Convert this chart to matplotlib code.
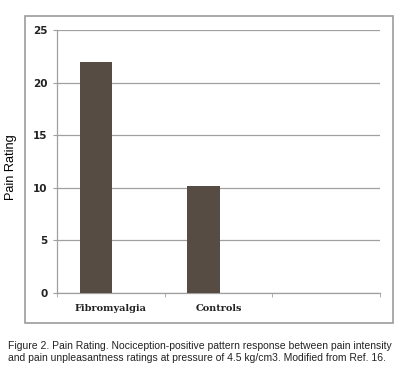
import matplotlib
matplotlib.use("Agg")
import matplotlib.pyplot as plt
import numpy as np
from matplotlib.patches import Rectangle

categories = ["Fibromyalgia", "Controls", ""]
values = [22.0, 10.2, np.nan]
yticks = [0, 5, 10, 15, 20, 25]
ylabel = "Pain Rating"
caption = ("Figure 2. Pain Rating. Nociception-positive pattern response between pain intensity\n"
           "and pain unpleasantness ratings at pressure of 4.5 kg/cm3. Modified from Ref. 16.")

bar_color = "#574c43"
grid_color = "#a0a0a0"

fig = plt.figure(figsize=(4.02, 3.75), dpi=100)
fig.patch.set_facecolor("white")

# outer frame
frame = Rectangle((0.0622, 0.1387), 0.9154, 0.8187, transform=fig.transFigure,
                  fill=False, edgecolor="#9c9c9c", linewidth=1.2)
fig.add_artist(frame)

ax = fig.add_axes([0.1418, 0.2187, 0.8035, 0.7013])
x = np.arange(len(categories))
ax.bar(x - 0.14, values, width=0.30, color=bar_color, zorder=3)

ax.set_xlim(-0.5, len(categories) - 0.5)
ax.set_ylim(0, 25)
ax.set_yticks(yticks)
ax.set_yticklabels([str(t) for t in yticks], fontfamily="DejaVu Sans",
                   fontweight="bold", fontsize=7.5, color="#222222")
ax.set_xticks(x)
ax.set_xticklabels(categories, fontfamily="DejaVu Serif", fontweight="bold",
                   fontsize=7.0, color="#222222")
ax.set_xticks(np.arange(-0.5, len(categories)), minor=True)
ax.tick_params(axis="x", which="major", length=0, pad=8)
ax.tick_params(axis="x", which="minor", length=3, color=grid_color, direction="out")
ax.tick_params(axis="y", length=3, color=grid_color, pad=4)

ax.yaxis.grid(True, color=grid_color, linewidth=0.9, zorder=0)
for s in ["top", "right"]:
    ax.spines[s].set_visible(False)
for s in ["left", "bottom"]:
    ax.spines[s].set_color(grid_color)
    ax.spines[s].set_linewidth(0.9)

ax.set_ylabel(ylabel, fontfamily="Liberation Sans", fontsize=9.2,
              color="#000000")
ax.yaxis.set_label_coords(-0.125, 0.48)

fig.text(0.02, 0.061, caption, fontfamily="Liberation Sans", fontsize=7.45,
         color="#222222", va="center", ha="left", linespacing=1.3)

fig.savefig("out.png", dpi=100, facecolor="white")
